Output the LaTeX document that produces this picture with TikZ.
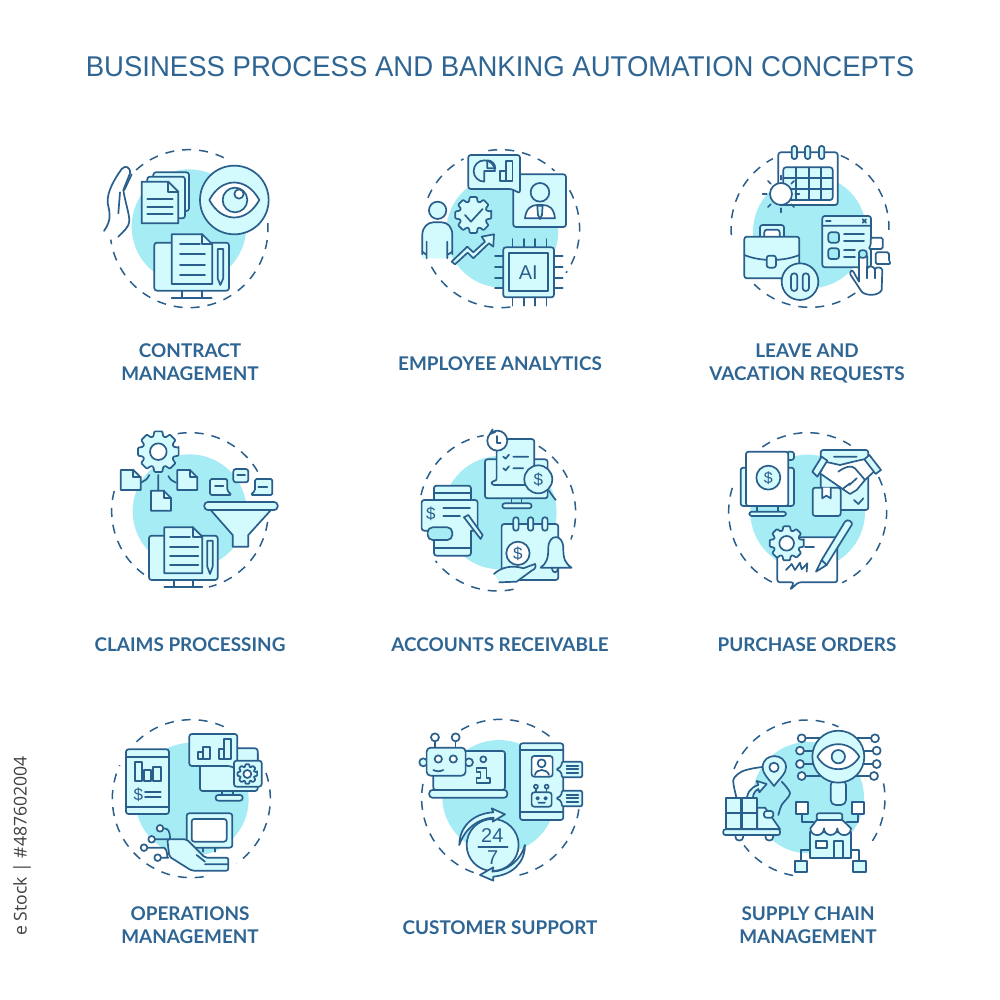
\documentclass[tikz,border=0pt]{standalone}
\usepackage{fontspec}
\setmainfont{Lato}
\newfontfamily\titlefont[FakeStretch=.963]{Liberation Sans}
\newfontfamily\iconfont{Liberation Sans}
\newfontfamily\stockfont{Open Sans}
\definecolor{inkblue}{HTML}{2A5F8C}
\definecolor{headblue}{HTML}{2F6593}
\definecolor{blobcyan}{HTML}{A6ECF4}
\definecolor{paleblue}{HTML}{D3FBFE}
\tikzset{
    ln/.style={draw=inkblue, line width=1.7pt, line join=round, line cap=round},
    lite/.style={ln, fill=paleblue},
    wht/.style={ln, fill=white},
    blobby/.style={ln, fill=blobcyan},
    rc/.style={rounded corners=2.5pt},
    ringline/.style={draw=inkblue, line width=1.5pt, dash pattern=on 9pt off 8pt},
    crop/.style 2 args={shift={(#1,#2)}, x=.3333pt, y=-.3333pt},
    caption/.style={text=headblue, font=\bfseries\fontsize{18.9}{23}\selectfont, align=center},
    glyph/.style={text=inkblue, font=\iconfont\fontsize{#1}{#1}\selectfont, inner sep=0pt},
}
\newcommand{\ringarcs}[4]{\foreach \a/\b in {#4} {\draw[ringline] (#1,#2) ++(\a:#3) arc (\a:\b:#3);}}
\newcommand{\blobdisc}[3]{\fill[blobcyan] (#1,#2) circle (#3);}
\newcommand{\foldpage}[5]{%
    \draw[lite] (#1,#2) -- ({#3-#5},#2) -- (#3,{#2+#5}) -- (#3,#4) -- (#1,#4) -- cycle;
    \draw[ln] ({#3-#5},#2) -- ({#3-#5},{#2+#5}) -- (#3,{#2+#5});}
\newcommand{\gearcog}[4]{\draw[lite, rounded corners=.8pt] (#1,#2) +(-11:#3) \foreach \t in {0,45,...,315} {-- +(\t-11:#3) -- +(\t+11:#3) -- +(\t+18:#4) -- +(\t+27:#4)} -- cycle;}

\begin{document}
\begin{tikzpicture}[x=1pt, y=-1pt]
    \useasboundingbox (0,0) rectangle (1000,1000);
    \fill[white] (0,0) rectangle (1000,1000);

    \node[text=headblue, font=\titlefont\fontsize{28.6}{30}\selectfont] (title) at (500,67) {BUSINESS PROCESS AND BANKING AUTOMATION CONCEPTS};
    \node[rotate=90, text=black!75, font=\stockfont\fontsize{17.6}{17.6}\selectfont, inner sep=0pt] (stockmark) at (22,846) {e Stock | \#487602004};

    \node[caption] (contract) at (190,362) {CONTRACT\\MANAGEMENT};
    \node[caption] (employee) at (500,364) {EMPLOYEE ANALYTICS};
    \node[caption] (leave) at (807,364) {LEAVE AND\\VACATION REQUESTS};
    \node[caption] (claims) at (190,645) {CLAIMS PROCESSING};
    \node[caption] (accounts) at (500,645) {ACCOUNTS RECEIVABLE};
    \node[caption] (purchase) at (807,645) {PURCHASE ORDERS};
    \node[caption] (operations) at (190,925) {OPERATIONS\\MANAGEMENT};
    \node[caption] (support) at (500,928) {CUSTOMER SUPPORT};
    \node[caption] (supply) at (808,925) {SUPPLY CHAIN\\MANAGEMENT};

    % contract management
    \begin{scope}[crop={90}{135}]
        \blobdisc{297}{275}{172}
        \ringarcs{297}{281}{237}{-132/-59,-4/172}
        \draw[ln] (42,288) .. controls (65,255) and (60,235) .. (53,205) .. controls (50,170) and (75,130) .. (95,102) .. controls (105,90) and (122,95) .. (120,115) -- (100,165) .. controls (105,200) and (118,235) .. (118,258) .. controls (118,275) and (100,290) .. (85,305);
        \draw[ln] (125,118) -- (103,165) (90,172) -- (85,235);
        \draw[lite, rc] (190,112) rectangle (297,228);
        \draw[lite, rc] (172,125) rectangle (285,250);
        \foldpage{155}{140}{265}{265}{30}
        \foreach \y in {192,215,238} {\draw[ln] (172,\y) -- (248,\y);}
        \draw[lite] (433,195) circle (103);
        \draw[wht] (358,195) .. controls (395,125) and (470,125) .. (508,195) .. controls (470,265) and (395,265) .. (358,195) -- cycle;
        \draw[lite] (435,195) circle (37);
        \draw[wht] (447,177) circle (14);
        \draw[ln] (275,467) -- (275,490) (337,467) -- (337,490) (245,490) -- (365,490);
        \draw[lite, rc] (193,323) rectangle (417,467);
        \foldpage{245}{298}{367}{447}{30}
        \draw[ln] (270,328) -- (330,328) (270,358) -- (345,358) (270,390) -- (345,390) (270,420) -- (345,420);
        \draw[lite] (383,342) -- (400,342) -- (400,430) -- (391,450) -- (383,430) -- cycle;
    \end{scope}

    % employee analytics
    \begin{scope}[crop={90}{135}]
        \blobdisc{1237}{290}{168}
        \ringarcs{1232}{281}{237}{-157/-118,-99/-47,-29/34,83/152}
        \draw[lite, rc] (1270,118) rectangle (1428,276);
        \draw[ln] (1350,172) circle (28);
        \draw[wht] (1305,250) .. controls (1308,220) and (1325,210) .. (1342,210) -- (1358,210) .. controls (1378,210) and (1392,220) .. (1395,250) -- cycle;
        \draw[lite] (1342,212) -- (1358,212) -- (1356,240) -- (1350,252) -- (1344,240) -- cycle;
        \draw[lite, rc] (1135,60) -- (1290,60) -- (1290,175) -- (1265,162) -- (1135,162) -- cycle;
        \draw[ln] (1215,108) arc (0:-270:32) -- (1183,108) -- cycle;
        \draw[ln] (1192,76) arc (-90:0:24) -- (1192,100) -- cycle;
        \draw[ln] (1230,108) rectangle (1248,138) (1248,78) rectangle (1268,138);
        \fill[paleblue] (997,370) -- (997,300) .. controls (997,275) and (1015,262) .. (1030,262) -- (1055,262) .. controls (1072,262) and (1087,275) .. (1087,300) -- (1087,370) -- cycle;
        \draw[ln] (1010,370) -- (1010,320) (1072,320) -- (1072,370) (997,350) -- (1010,360) (1087,350) -- (1072,360);
        \draw[ln] (997,358) -- (997,300) .. controls (997,275) and (1015,262) .. (1030,262) -- (1055,262) .. controls (1072,262) and (1087,275) .. (1087,300) -- (1087,358);
        \draw[lite] (1043,226) circle (26);
        \gearcog{1150}{240}{55}{42}
        \draw[ln] (1125,240) -- (1143,260) -- (1178,222);
        \draw[lite] (1085,380) -- (1132,335) -- (1150,352) -- (1185,320) -- (1175,305) -- (1212,298) -- (1210,335) -- (1197,325) -- (1150,370) -- (1133,353) -- (1095,388) -- cycle;
        \foreach \p in {1268,1302,1336,1370} {\draw[ln] (\p,312) -- (\p,512);}
        \foreach \p in {362,395,428,460} {\draw[ln] (1215,\p) -- (1418,\p);}
        \draw[lite, rc] (1240,337) rectangle (1392,487);
        \draw[lite] (1258,355) rectangle (1374,468);
        \node[glyph=20] (chiplabel) at (1315,412) {AI};
    \end{scope}

    % leave and vacation requests
    \begin{scope}[crop={710}{135}]
        \blobdisc{299}{290}{170}
        \ringarcs{300}{280}{237}{-185/-118,-67/5,55/135}
        \draw[wht, rc] (205,52) rectangle (383,210);
        \foreach \x in {253,293,335} {\draw[lite, rounded corners=2.4pt] ({\x-8},33) rectangle ({\x+8},72);}
        \draw[lite, rc] (220,97) rectangle (368,195);
        \foreach \x in {258,296,332} {\draw[ln] (\x,97) -- (\x,195);}
        \foreach \y in {130,162} {\draw[ln] (220,\y) -- (368,\y);}
        \foreach \r in {0,45,...,315} {\draw[ln] (213,177) ++(\r:43) -- ++(\r:12);}
        \draw[wht] (213,177) circle (33);
        \draw[lite, rc] (150,315) -- (150,270) -- (222,270) -- (222,315);
        \draw[wht, rc] (163,305) -- (163,284) -- (209,284) -- (209,305);
        \draw[lite, rc] (103,305) rectangle (268,430);
        \draw[ln] (103,360) .. controls (150,380) and (220,380) .. (268,360);
        \draw[lite, rc] (170,362) rectangle (198,398);
        \draw[lite] (270,440) circle (55);
        \draw[lite, rounded corners=3pt] (243,415) rectangle (262,468);
        \draw[lite, rounded corners=3pt] (278,415) rectangle (297,468);
        \draw[lite, rc] (337,243) rectangle (483,397);
        \draw[ln] (337,272) -- (483,272) (348,258) -- (362,258) (458,253) -- (468,263) (458,263) -- (468,253);
        \draw[blobby, rc] (355,292) rectangle (387,323);
        \draw[blobby, rc] (355,340) rectangle (387,372);
        \draw[ln] (402,298) -- (462,298) (402,318) -- (462,318) (402,346) -- (435,346) (402,366) -- (435,366);
        \draw[wht, rounded corners=1.5pt] (482,308) -- (518,308) -- (518,342) -- (475,342) -- (482,332) -- cycle;
        \draw[wht, rounded corners=1.5pt] (497,352) -- (537,352) -- (537,378) -- (543,387) -- (497,387) -- cycle;
        \draw[wht] (447,365) -- (447,440) -- (430,410) .. controls (424,402) and (418,412) .. (422,420) -- (455,470) .. controls (465,482) and (505,485) .. (515,465) -- (517,405) .. controls (515,395) and (497,395) .. (495,403) .. controls (490,392) and (475,392) .. (472,400) -- (472,365) .. controls (470,355) and (449,355) .. (447,365) -- cycle;
        \draw[ln] (472,395) -- (472,430) (495,400) -- (495,430);
        \draw[blobby, rc] (447,346) rectangle (470,368);
    \end{scope}

    % claims processing
    \begin{scope}[crop={90}{420}]
        \blobdisc{299}{274}{171}
        \ringarcs{300}{273}{235}{-99/-30,126/196,8/76}
        \gearcog{205}{95}{62}{48}
        \draw[wht] (205,95) circle (25);
        \draw[ln] (205,165) -- (205,212) (178,165) .. controls (172,178) and (165,182) .. (155,187) (235,168) .. controls (240,178) and (248,185) .. (258,188);
        \foldpage{92}{150}{152}{210}{22}
        \foldpage{262}{150}{322}{210}{22}
        \foldpage{183}{212}{243}{272}{22}
        \draw[lite, rounded corners=1.5pt] (360,177) -- (412,177) -- (412,212) -- (425,225) -- (360,225) -- cycle;
        \draw[lite, rc] (430,147) rectangle (475,187);
        \draw[lite, rounded corners=1.5pt] (495,177) -- (547,177) -- (547,225) -- (482,225) -- (495,212) -- cycle;
        \draw[ln] (375,198) -- (400,198) (442,165) -- (465,165) (505,200) -- (532,200);
        \draw[lite] (362,270) -- (543,270) -- (475,345) -- (475,380) -- (428,380) -- (428,345) -- cycle;
        \draw[lite, rounded corners=3.5pt] (343,246) rectangle (563,270);
        \draw[ln] (252,480) -- (252,500) (310,480) -- (310,500) (223,500) -- (337,500);
        \draw[lite, rc] (177,347) rectangle (383,480);
        \foldpage{223}{322}{337}{460}{28}
        \draw[ln] (240,352) -- (300,352) (240,380) -- (325,380) (240,408) -- (325,408) (240,436) -- (325,436);
        \draw[lite] (352,362) -- (368,362) -- (368,440) -- (360,462) -- (352,440) -- cycle;
    \end{scope}

    % accounts receivable
    \begin{scope}[crop={90}{420}]
        \blobdisc{1230}{278}{170}
        \ringarcs{1222}{278}{235}{-167/-100,-58/20,78/142}
        \draw[ln] (1265,235) -- (1265,250) (1295,235) -- (1295,250);
        \draw[lite, rc] (1185,118) rectangle (1373,235);
        \draw[lite, rc] (1237,250) rectangle (1325,265);
        \draw[lite, rc] (1220,57) -- (1333,57) -- (1333,195) -- (1205,195) -- (1205,183) -- (1220,183) -- cycle;
        \draw[ln] (1240,110) -- (1247,116) -- (1257,104) (1270,110) -- (1315,110);
        \draw[ln] (1240,145) -- (1247,151) -- (1257,139) (1270,145) -- (1300,145);
        \draw[wht] (1222,62) circle (30);
        \draw[ln] (1222,48) -- (1222,68) -- (1232,68);
        \draw[ln] (1200,42) -- (1208,28) (1200,42) -- (1216,36);
        \draw[ln] (1375,210) -- (1397,240);
        \draw[lite] (1345,178) circle (42);
        \node[glyph=17] (lensdollar) at (1345,178) {\$};
        \draw[lite, rc] (1032,197) rectangle (1143,407);
        \draw[ln] (1032,218) -- (1143,218) (1032,385) -- (1143,385);
        \draw[lite, rc] (1143,332) -- (1163,332) -- (1163,240) -- (995,240) -- (995,332) -- (1015,332);
        \node[glyph=17] (chequedollar) at (1023,280) {\$};
        \draw[ln] (1060,265) -- (1140,265) (1060,288) -- (1110,288);
        \draw[blobby, rounded corners=5pt] (1013,322) rectangle (1087,360);
        \draw[lite] (1122,292) -- (1135,285) -- (1178,345) -- (1172,357) -- cycle;
        \draw[lite, rc] (1235,312) rectangle (1405,480);
        \foreach \x in {1278,1322,1365} {\draw[lite, rounded corners=2.4pt] ({\x-8},292) rectangle ({\x+8},332);}
        \draw[wht] (1284,400) circle (35);
        \node[glyph=17] (calendardollar) at (1284,400) {\$};
        \draw[lite] (1212,462) .. controls (1235,440) and (1270,435) .. (1300,445) -- (1335,432) .. controls (1340,440) and (1335,448) .. (1325,452) -- (1280,485) -- (1228,487);
        \draw[ln] (1385,443) .. controls (1388,462) and (1402,462) .. (1405,443);
        \draw[lite] (1352,443) .. controls (1370,430) and (1375,415) .. (1375,385) .. controls (1375,340) and (1420,340) .. (1420,385) .. controls (1420,415) and (1425,430) .. (1445,443) -- cycle;
    \end{scope}

    % purchase orders
    \begin{scope}[crop={710}{420}]
        \blobdisc{293}{276}{172}
        \ringarcs{293}{275}{237}{-125/-57,117/203,-26/64}
        \draw[ln] (142,258) -- (142,275) (205,258) -- (205,275);
        \draw[lite, rc] (92,143) rectangle (252,258);
        \draw[lite, rc] (118,275) rectangle (228,288);
        \draw[lite, rc] (235,95) -- (252,95) -- (252,120) -- (235,120);
        \draw[wht, rc] (108,95) -- (235,95) -- (235,258) -- (108,258) -- cycle;
        \draw[lite] (175,173) circle (36);
        \node[glyph=16] (billdollar) at (175,173) {\$};
        \draw[lite, rc] (332,90) -- (475,90) -- (475,270) -- (332,270) -- cycle;
        \draw[ln] (372,110) -- (440,110) (432,240) -- (445,252) -- (460,235);
        \draw[lite, rc] (308,203) rectangle (392,288);
        \draw[wht] (337,203) -- (337,235) -- (349,227) -- (362,235) -- (362,203);
        \draw[wht] (345,125) -- (390,135) -- (430,125) -- (475,115) -- (497,150) -- (465,180) -- (440,210) -- (420,222) -- (395,205) -- (330,160) -- cycle;
        \draw[ln] (385,155) .. controls (405,140) and (425,135) .. (435,145) -- (465,180);
        \draw[ln] (420,190) -- (400,205) (440,175) -- (418,195);
        \draw[lite] (307,155) -- (335,110) -- (352,122) -- (322,170) -- cycle;
        \draw[lite] (478,105) -- (513,150) -- (497,162) -- (463,118) -- cycle;
        \draw[wht, rc] (202,352) -- (382,352) -- (382,487) -- (265,487) -- (240,510) -- (252,487) -- (202,487) -- cycle;
        \gearcog{230}{370}{52}{40}
        \draw[wht] (230,370) circle (22);
        \draw[ln] (285,380) -- (312,380);
        \draw[ln] (228,450) -- (245,432) -- (255,450) -- (270,428) -- (275,448) -- (292,430) -- (290,455);
        \draw[lite] (318,455) -- (335,420) -- (405,305) .. controls (412,295) and (430,305) .. (425,315) -- (350,435) -- cycle;
        \draw[ln] (335,420) -- (350,435);
    \end{scope}

    % operations management
    \begin{scope}[crop={90}{705}]
        \blobdisc{306}{283}{170}
        \ringarcs{304}{281}{237}{-134/-62,81/205,-19/55}
        \draw[lite, rc] (108,133) rectangle (237,327);
        \draw[ln] (108,155) -- (237,155) (108,307) -- (237,307);
        \draw[ln] (135,172) rectangle (155,228) (163,195) rectangle (182,228) (190,185) rectangle (212,228);
        \node[glyph=17] (tabletdollar) at (145,268) {\$};
        \draw[ln] (165,260) -- (212,260) (165,277) -- (212,277);
        \draw[ln] (395,258) -- (395,270) (430,258) -- (430,270);
        \draw[lite, rc] (445,140) -- (503,140) -- (503,170);
        \draw[lite, rc] (330,130) rectangle (503,258);
        \draw[lite, rc] (377,270) rectangle (458,287);
        \draw[lite, rc] (298,87) -- (442,87) -- (442,183) -- (447,195) -- (420,183) -- (298,183) -- cycle;
        \draw[ln] (325,140) rectangle (340,162) (340,125) rectangle (360,162) (387,132) rectangle (403,162) (403,103) rectangle (422,162);
        \draw[lite, rc] (432,167) rectangle (515,245);
        \gearcog{472}{207}{30}{22}
        \draw[wht] (472,207) circle (12);
        \draw[ln] (340,428) -- (340,440) (375,428) -- (375,440);
        \draw[lite, rc] (290,325) rectangle (427,428);
        \draw[wht, rc] (305,342) rectangle (410,410);
        \draw[ln] (220,370) .. controls (235,370) and (240,378) .. (240,402);
        \draw[ln] (172,428) -- (222,428) .. controls (230,432) and (232,445) .. (232,458) (195,403) -- (240,403) (213,458) -- (235,458);
        \draw[lite, rounded corners=2pt] (232,403) -- (290,403) -- (345,458) -- (415,458) -- (415,497) -- (305,497) -- (238,455) -- cycle;
        \draw[ln] (345,478) -- (415,478) (320,450) -- (345,470);
        \foreach \x/\y in {210/370,185/403,162/428,203/458} {\draw[wht] (\x,\y) circle (10);}
    \end{scope}

    % customer support
    \begin{scope}[crop={90}{705}]
        \blobdisc{1227}{275}{170}
        \ringarcs{1232}{280}{237}{-120/-48,110/193,8/77}
        \draw[lite, rc] (1030,138) rectangle (1245,255);
        \draw[lite, rounded corners=3pt] (1018,255) rectangle (1252,278);
        \draw[ln] (1035,109) -- (1035,128) (1097,109) -- (1097,128);
        \draw[wht] (1035,97) circle (12);
        \draw[wht] (1097,97) circle (12);
        \draw[lite] (1000,172) circle (12);
        \draw[lite] (1137,172) circle (12);
        \draw[lite, rounded corners=4pt] (1010,128) rectangle (1127,212);
        \draw[wht] (1045,162) circle (11);
        \draw[wht] (1090,162) circle (11);
        \draw[ln] (1030,195) .. controls (1040,200) and (1050,200) .. (1060,195);
        \draw[lite] (1180,163) circle (9);
        \draw[lite] (1160,188) -- (1190,188) -- (1190,220) -- (1200,220) -- (1200,233) -- (1160,233) -- (1160,220) -- (1172,220) -- (1172,200) -- (1160,200) -- cycle;
        \draw[lite, rc] (1290,115) rectangle (1420,345);
        \draw[ln] (1290,135) -- (1420,135) (1290,322) -- (1420,322);
        \draw[wht, rc] (1325,153) rectangle (1388,215);
        \draw[ln] (1355,175) circle (12);
        \draw[ln] (1335,210) .. controls (1338,190) and (1372,190) .. (1377,210);
        \draw[ln] (1338,251) -- (1338,262) (1370,251) -- (1370,262);
        \draw[wht] (1338,245) circle (6);
        \draw[wht] (1370,245) circle (6);
        \draw[lite, rc] (1325,262) rectangle (1385,305);
        \draw[ln] (1343,280) circle (4) (1367,280) circle (4) (1345,293) -- (1365,293);
        \foreach \y in {170,257} {
            \draw[lite, rounded corners=2pt] (1415,\y) -- (1477,\y) -- (1477,{\y+47}) -- (1415,{\y+47}) -- (1415,{\y+31}) -- (1398,{\y+23}) -- (1415,{\y+15}) -- cycle;
            \draw[ln] (1430,{\y+13}) -- (1465,{\y+13}) (1430,{\y+23}) -- (1465,{\y+23}) (1430,{\y+35}) -- (1465,{\y+35});
        }
        \draw[lite] (1208,420) circle (78);
        \draw[lite] (1108,420) .. controls (1108,365) and (1150,325) .. (1210,322) -- (1205,310) -- (1245,328) -- (1208,350) -- (1211,338) .. controls (1165,340) and (1125,370) .. (1108,420) -- cycle;
        \draw[lite] (1305,420) .. controls (1305,475) and (1265,510) .. (1210,515) -- (1210,527) -- (1170,510) -- (1210,487) -- (1207,500) .. controls (1250,498) and (1290,470) .. (1305,420) -- cycle;
        \node[glyph=20] (hoursfigure) at (1207,393) {24};
        \draw[ln] (1165,425) -- (1253,425);
        \node[glyph=20] (daysfigure) at (1208,458) {7};
    \end{scope}

    % supply chain management
    \begin{scope}[crop={710}{705}]
        \blobdisc{295}{278}{167}
        \ringarcs{290}{280}{235}{-158/-66,-11/38,100/143}
        \draw[ln] plot[smooth] coordinates {(80,280) (70,225) (95,200) (130,190) (165,185)};
        \draw[ln] plot[smooth] coordinates {(215,230) (240,265) (215,300) (205,330)};
        \draw[lite] (192,243) .. controls (170,215) and (158,205) .. (158,187) .. controls (158,142) and (228,142) .. (228,187) .. controls (228,205) and (214,215) .. (192,243) -- cycle;
        \draw[wht] (192,187) circle (14);
        \draw[lite] (110,298) .. controls (108,265) and (120,248) .. (145,240) -- (140,228) -- (170,237) -- (148,262) -- (145,252) .. controls (132,258) and (126,272) .. (128,298) -- cycle;
        \draw[lite] (142,308) -- (165,308) -- (210,372) -- (142,372) -- cycle;
        \draw[lite, rc] (162,318) rectangle (190,338);
        \foreach \x in {47,95} {\foreach \y in {280,325} {\draw[lite] (\x,\y) rectangle ({\x+47},{\y+47});}}
        \draw[wht] (88,395) circle (12);
        \draw[wht] (178,395) circle (12);
        \draw[lite, rounded corners=2pt] (40,373) rectangle (210,390);
        \draw[lite, rounded corners=5pt] (362,225) rectangle (408,300);
        \foreach \y in {100,137,177,213} {\draw[ln] (280,\y) -- (340,\y) (490,\y) -- (430,\y);}
        \draw[lite] (385,155) circle (78);
        \foreach \x/\y in {275/100,270/137,270/177,275/213,495/100,500/137,500/177,492/213} {\draw[wht] (\x,\y) circle (12);}
        \draw[wht] (322,155) .. controls (350,105) and (420,105) .. (448,155) .. controls (420,205) and (350,205) .. (322,155) -- cycle;
        \draw[lite] (385,155) circle (20);
        \draw[ln] (275,327) -- (275,352) -- (310,352) (445,327) -- (445,352) -- (410,352);
        \draw[ln] (300,435) -- (273,435) -- (273,467) (423,435) -- (448,435) -- (448,467);
        \draw[wht] (258,292) rectangle (293,327);
        \draw[wht] (427,292) rectangle (462,327);
        \draw[lite] (255,467) rectangle (292,502);
        \draw[lite] (430,467) rectangle (467,502);
        \draw[lite] (300,380) rectangle (423,458);
        \draw[lite, rounded corners=2pt] (320,325) rectangle (397,345);
        \draw[wht] (320,345) -- (397,345) -- (423,370) arc (0:180:20.5) arc (0:180:20) arc (0:180:20.5) -- cycle;
        \draw[wht] (318,408) rectangle (350,430);
        \draw[ln] (372,458) -- (372,408) -- (398,408) -- (398,458);
    \end{scope}
\end{tikzpicture}
\end{document}
